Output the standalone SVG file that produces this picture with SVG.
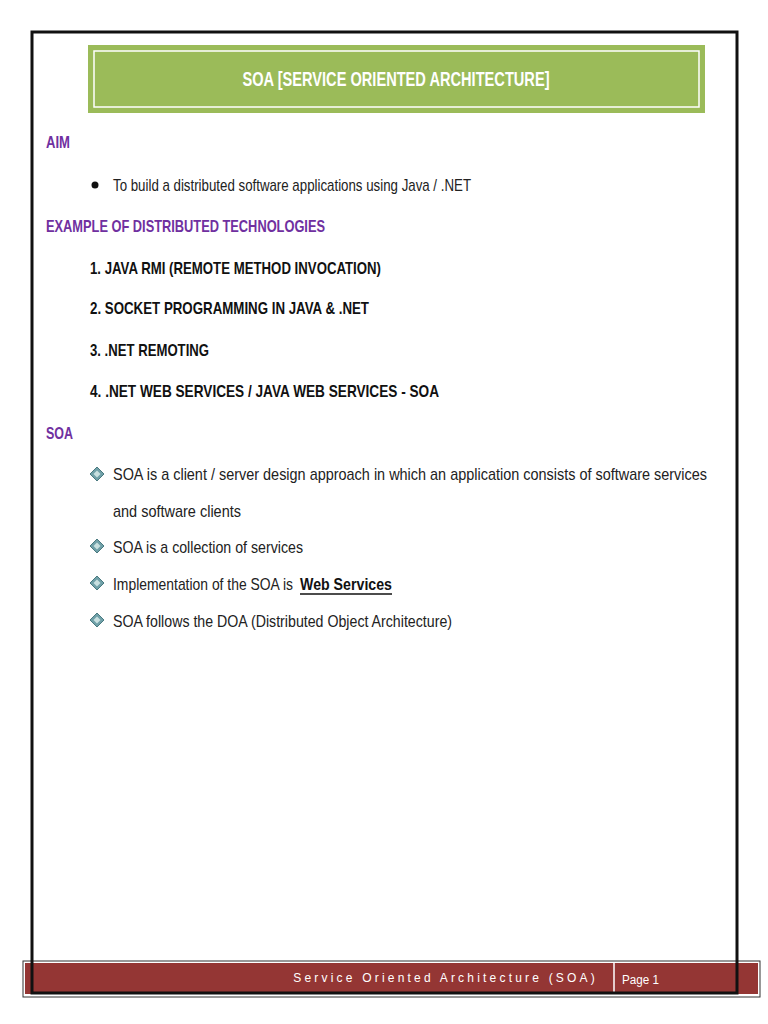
<svg xmlns="http://www.w3.org/2000/svg" width="768" height="1024" viewBox="0 0 768 1024">
<style>
text{font-family:"Liberation Sans",Arial,sans-serif;}
.h{fill:#7030A0;font-weight:bold;font-size:17px;}
.n{fill:#111;font-weight:bold;font-size:17px;}
.b{fill:#222;font-size:17px;}
</style>
<defs>
<g id="dia"><polygon points="0,-7 7,0 0,7 -7,0" fill="#6fa0a8" stroke="#4a7a80" stroke-width="1"/><polygon points="0,-3.5 3.5,0 0,3.5 -3.5,0" fill="#c8e0e0"/></g>
</defs>
<rect width="768" height="1024" fill="#fff"/>
<g id="title">
<rect x="88" y="45" width="617" height="68" fill="#9bbb59"/>
<rect x="94" y="51" width="605" height="56" fill="none" stroke="#fff" stroke-width="1.5"/>
<text x="396" y="86" text-anchor="middle" fill="#fff" font-weight="bold" font-size="20" textLength="307" lengthAdjust="spacingAndGlyphs">SOA [SERVICE ORIENTED ARCHITECTURE]</text>
</g>
<text class="h" x="46" y="148" textLength="24" lengthAdjust="spacingAndGlyphs">AIM</text>
<circle cx="95" cy="185" r="3.5" fill="#111"/>
<text class="b" x="113" y="191" textLength="358" lengthAdjust="spacingAndGlyphs">To build a distributed software applications using Java / .NET</text>
<text class="h" x="46" y="232" textLength="279" lengthAdjust="spacingAndGlyphs">EXAMPLE OF DISTRIBUTED TECHNOLOGIES</text>
<text class="n" x="90" y="274" textLength="291" lengthAdjust="spacingAndGlyphs">1. JAVA RMI (REMOTE METHOD INVOCATION)</text>
<text class="n" x="90" y="314" textLength="279" lengthAdjust="spacingAndGlyphs">2. SOCKET PROGRAMMING IN JAVA &amp; .NET</text>
<text class="n" x="90" y="356" textLength="119" lengthAdjust="spacingAndGlyphs">3. .NET REMOTING</text>
<text class="n" x="90" y="397" textLength="349" lengthAdjust="spacingAndGlyphs">4. .NET WEB SERVICES / JAVA WEB SERVICES - SOA</text>
<text class="h" x="46" y="439" textLength="27" lengthAdjust="spacingAndGlyphs">SOA</text>
<use href="#dia" x="97" y="474"/>
<text class="b" x="113" y="480" textLength="594" lengthAdjust="spacingAndGlyphs">SOA is a client / server design approach in which an application consists of software services</text>
<text class="b" x="113" y="517" textLength="128" lengthAdjust="spacingAndGlyphs">and software clients</text>
<use href="#dia" x="97" y="546"/>
<text class="b" x="113" y="553" textLength="190" lengthAdjust="spacingAndGlyphs">SOA is a collection of services</text>
<use href="#dia" x="97" y="583"/>
<text class="b" x="113" y="590" textLength="180" lengthAdjust="spacingAndGlyphs">Implementation of the SOA is</text>
<text class="n" x="300" y="590" textLength="92" lengthAdjust="spacingAndGlyphs">Web Services</text>
<line x1="300" y1="594" x2="392" y2="594" stroke="#111" stroke-width="1.5"/>
<use href="#dia" x="97" y="620"/>
<text class="b" x="113" y="627" textLength="339" lengthAdjust="spacingAndGlyphs">SOA follows the DOA (Distributed Object Architecture)</text>
<g id="footer">
<rect x="23" y="961" width="737" height="36" fill="none" stroke="#333" stroke-width="1"/>
<rect x="25" y="963" width="733" height="31" fill="#943634"/>
<line x1="614" y1="963" x2="614" y2="994" stroke="#fff" stroke-width="1.5"/>
<text x="598" y="982" text-anchor="end" fill="#fff" font-size="12" letter-spacing="3.2">Service Oriented Architecture (SOA)</text>
<text x="622" y="984" fill="#fff" font-size="12" textLength="37" lengthAdjust="spacingAndGlyphs">Page 1</text>
</g>
<rect x="32" y="32" width="705" height="961" fill="none" stroke="#111" stroke-width="3"/>
</svg>
